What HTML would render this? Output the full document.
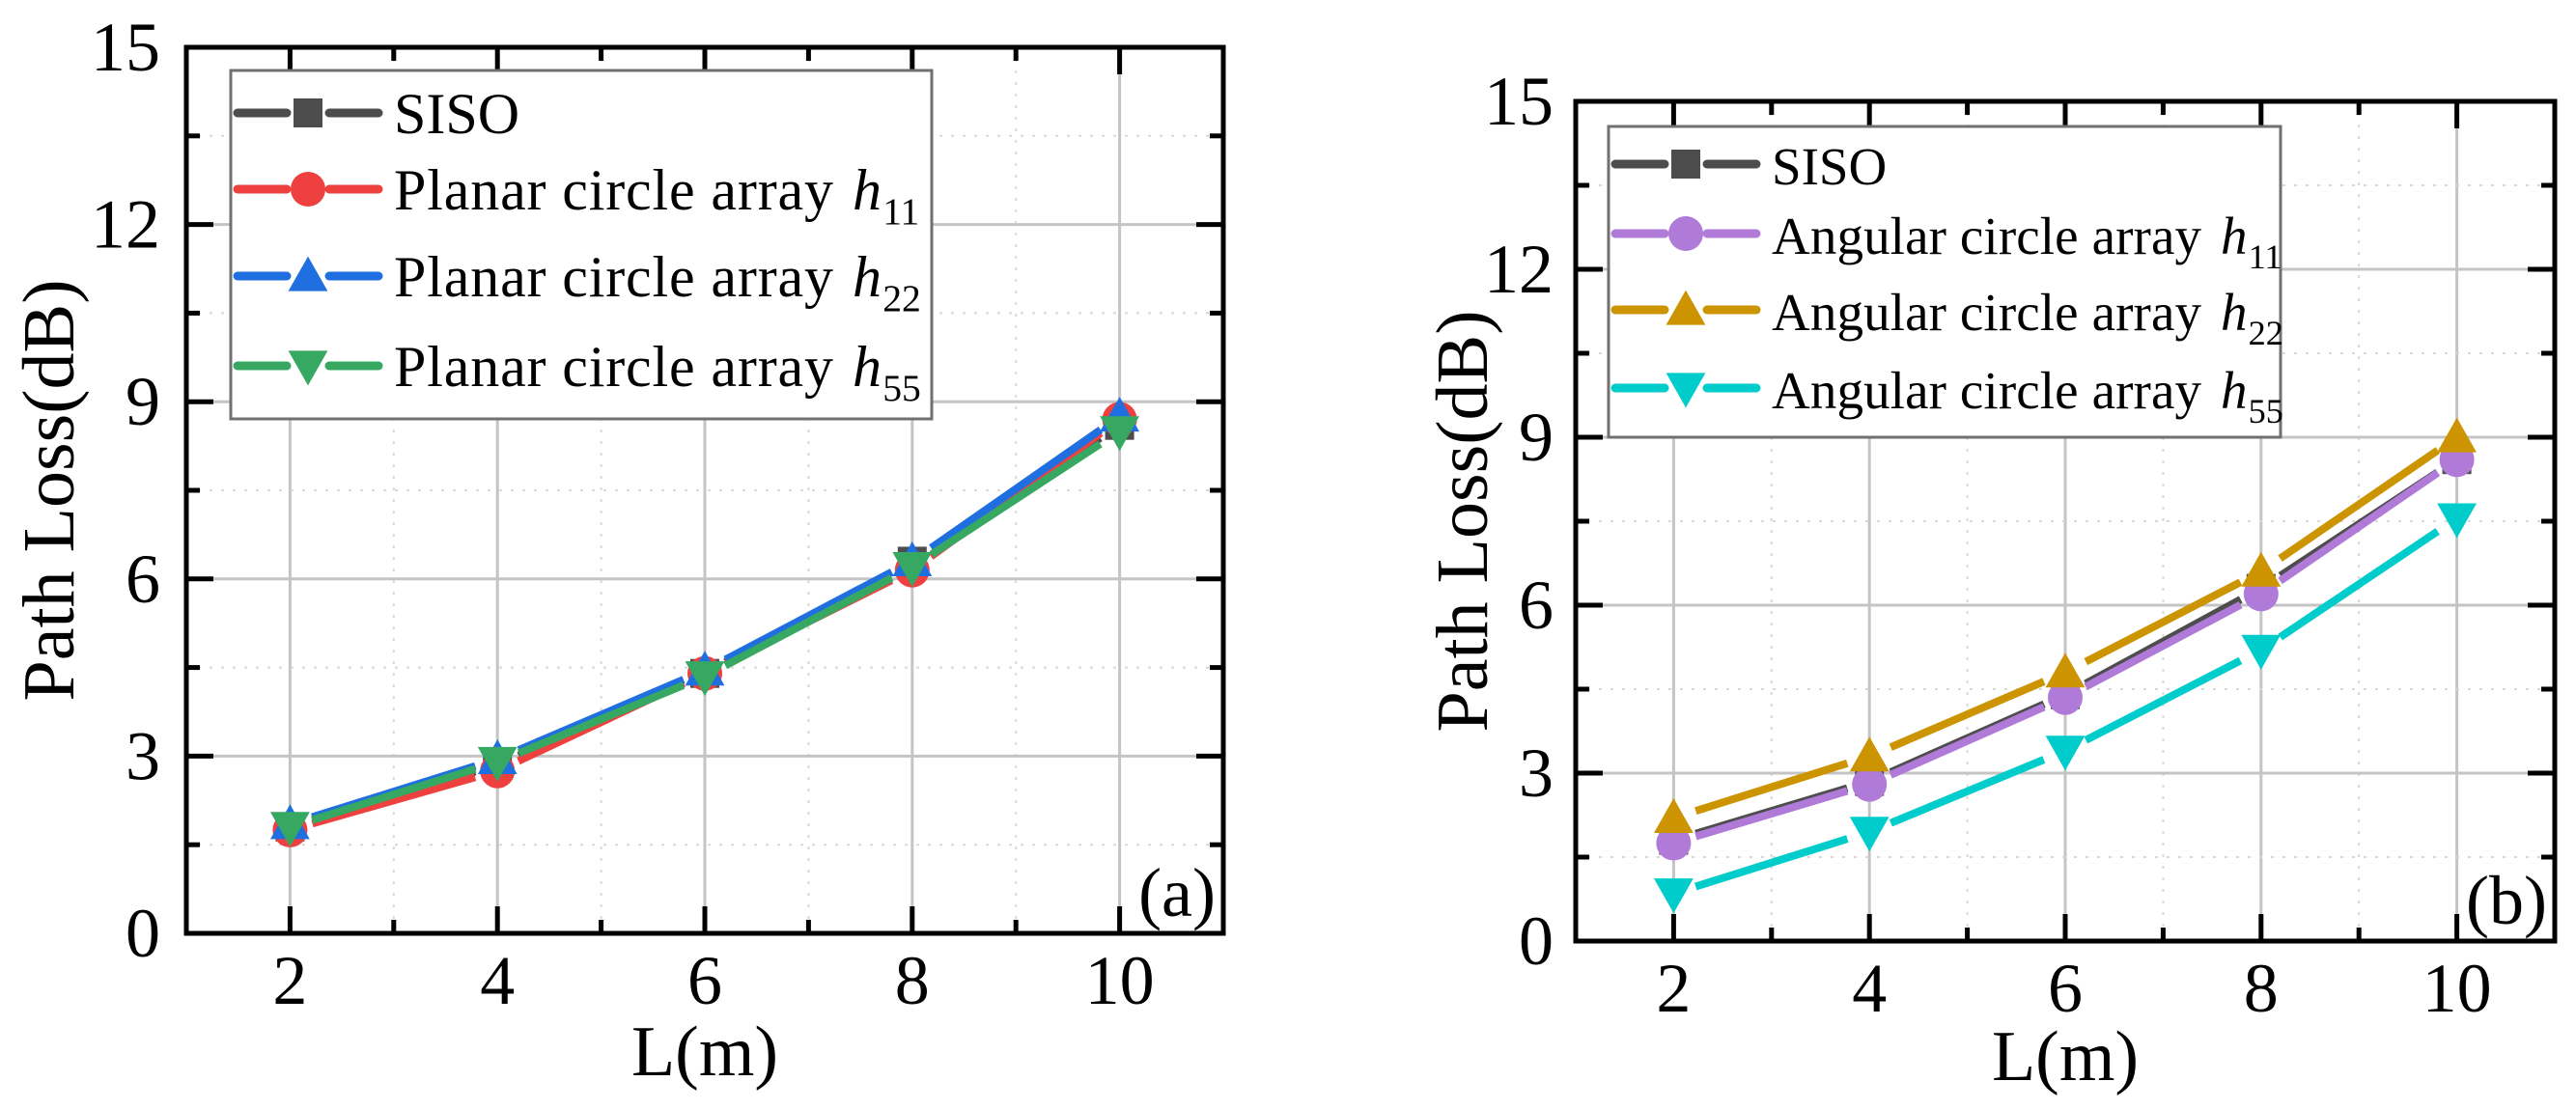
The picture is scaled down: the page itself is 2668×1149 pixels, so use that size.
<!DOCTYPE html>
<html><head><meta charset="utf-8"><style>
html,body{margin:0;padding:0;background:#fff;}
svg{display:block;font-family:"Liberation Serif",serif;}
</style></head>
<body>
<svg id="fig" width="2668" height="1149" viewBox="0 0 2668 1149" xmlns="http://www.w3.org/2000/svg"></svg>
<script>
// ---- data ----
const xValues = [2, 4, 6, 8, 10];
const xTicks = [2, 4, 6, 8, 10];
const yTicks = [0, 3, 6, 9, 12, 15];
const sisoA = [1.8, 2.85, 4.4, 6.3, 8.6];
const planarH11 = [1.75, 2.75, 4.4, 6.15, 8.7];
const planarH22 = [1.85, 2.95, 4.45, 6.3, 8.75];
const planarH55 = [1.8, 2.9, 4.35, 6.2, 8.5];
const sisoB = [1.8, 2.85, 4.4, 6.3, 8.6];
const angularH11 = [1.75, 2.8, 4.35, 6.2, 8.6];
const angularH22 = [2.2, 3.3, 4.8, 6.6, 9.0];
const angularH55 = [0.85, 1.95, 3.4, 5.2, 7.55];
const namesA = ["SISO", "Planar circle array", "Planar circle array", "Planar circle array"];
const namesB = ["SISO", "Angular circle array", "Angular circle array", "Angular circle array"];
const subs = ["", "11", "22", "55"];

const NS = "http://www.w3.org/2000/svg";
const svg = document.getElementById('fig');
function mk(tag, attrs, parent) {
  const e = document.createElementNS(NS, tag);
  for (const k in attrs) e.setAttribute(k, attrs[k]);
  (parent || svg).appendChild(e);
  return e;
}

function marker(g, type, cx, cy, color, s) {
  let e;
  if (type === 'square') e = mk('rect', {x: cx - s*0.5, y: cy - s*0.5, width: s, height: s, fill: color}, g);
  else if (type === 'circle') e = mk('circle', {cx: cx, cy: cy, r: s*0.6, fill: color}, g);
  else if (type === 'up') e = mk('polygon', {points: `${cx},${cy - s*0.68} ${cx - s*0.68},${cy + s*0.52} ${cx + s*0.68},${cy + s*0.52}`, fill: color}, g);
  else e = mk('polygon', {points: `${cx},${cy + s*0.68} ${cx - s*0.68},${cy - s*0.52} ${cx + s*0.68},${cy - s*0.52}`, fill: color}, g);
  return e;
}

function panel(p) {
  const g = mk('g', {});
  
  
  const X = v => p.x0 + (v - 1) / 10 * (p.x1 - p.x0);
  const Y = v => p.y1 - v / 15 * (p.y1 - p.y0);
  const grid = mk('g', {}, g);
  
  
  for (let v = 2; v <= 10; v++) {
    const major = xTicks.includes(v);
    mk('line', {x1: X(v), x2: X(v), y1: p.y0, y2: p.y1, stroke: major ? '#c4c4c4' : '#d8d8d8', 'stroke-width': major ? 3 : 2, 'stroke-dasharray': major ? '' : '3 9'}, grid);
  }
  for (let v = 1.5; v < 15; v += 1.5) {
    const major = Math.abs(v % 3) < 0.01;
    mk('line', {x1: p.x0, x2: p.x1, y1: Y(v), y2: Y(v), stroke: major ? '#c4c4c4' : '#d8d8d8', 'stroke-width': major ? 3 : 2, 'stroke-dasharray': major ? '' : '3 9'}, grid);
  }
  const ticks = mk('g', {stroke: '#000', 'stroke-width': 5}, g);
  
  
  for (let v = 2; v <= 10; v++) {
    const L = xTicks.includes(v) ? 28 : 14;
    mk('line', {x1: X(v), x2: X(v), y1: p.y1, y2: p.y1 - L}, ticks);
    mk('line', {x1: X(v), x2: X(v), y1: p.y0, y2: p.y0 + L}, ticks);
  }
  for (let v = 1.5; v < 15; v += 1.5) {
    const L = Math.abs(v % 3) < 0.01 ? 28 : 14;
    mk('line', {x1: p.x0, x2: p.x0 + L, y1: Y(v), y2: Y(v)}, ticks);
    mk('line', {x1: p.x1, x2: p.x1 - L, y1: Y(v), y2: Y(v)}, ticks);
  }
  p.series.forEach((s, si) => {
    const sg = mk('g', {}, g);
    
    
    const pts = xValues.map((xv, i) => [X(xv), Y(s.data[i])]);
    for (let i = 0; i < pts.length - 1; i++) {
      const [ax, ay] = pts[i], [bx, by] = pts[i + 1];
      const dx = bx - ax, dy = by - ay, d = Math.hypot(dx, dy), gap = 24;
      const ln = mk('line', {x1: ax + dx / d * gap, y1: ay + dy / d * gap, x2: bx - dx / d * gap, y2: by - dy / d * gap, stroke: s.color, 'stroke-width': 8}, sg);
      
      
    }
    pts.forEach(([cx, cy]) => {
      const m = marker(sg, s.marker, cx, cy, s.color, 30);
      
      
    });
  });
  const fr = mk('rect', {x: p.x0, y: p.y0, width: p.x1 - p.x0, height: p.y1 - p.y0, fill: 'none', stroke: '#000', 'stroke-width': 5}, g);
  
  
  yTicks.forEach(v => {
    const t = mk('text', {x: p.ylx, y: Y(v) + 24, 'text-anchor': 'end', 'font-size': 72}, g);
    t.textContent = v;
    
    
  });
  xTicks.forEach(v => {
    const t = mk('text', {x: X(v), y: p.y1 + 73, 'text-anchor': 'middle', 'font-size': 72}, g);
    t.textContent = v;
    
    
  });
  const xt = mk('text', {x: (p.x0 + p.x1) / 2, y: p.xty, 'text-anchor': 'middle', 'font-size': 74}, g);
  xt.textContent = 'L(m)';
  
  
  const yt = mk('text', {x: 0, y: 0, 'text-anchor': 'middle', 'font-size': 76, transform: `translate(${p.ytx},${(p.y0 + p.y1) / 2}) rotate(-90)`}, g);
  yt.textContent = 'Path Loss(dB)';
  
  
  const pl = mk('text', {x: p.x1 - 8, y: p.y1 - 18, 'text-anchor': 'end', 'font-size': 72}, g);
  pl.textContent = p.label;
  
  
  const lg = mk('g', {}, g);
  
  
  const lb = p.leg;
  mk('rect', {x: lb.x, y: lb.y, width: lb.w, height: lb.h, fill: '#fff', stroke: '#707070', 'stroke-width': 3}, lg);
  p.series.forEach((s, i) => {
    const e = mk('g', {}, lg);
    
    
    const cy = lb.rows[i], lx0 = lb.x + 7, lx1 = lb.x + 153, mx = (lx0 + lx1) / 2;
    mk('line', {x1: lx0, x2: mx - 22, y1: cy, y2: cy, stroke: s.color, 'stroke-width': 9, 'stroke-linecap': 'round'}, e);
    mk('line', {x1: mx + 22, x2: lx1, y1: cy, y2: cy, stroke: s.color, 'stroke-width': 9, 'stroke-linecap': 'round'}, e);
    marker(e, s.marker, mx, cy, s.color, 30);
    const tx = lb.x + 169;
    const t = mk('text', {x: tx, y: cy + 21, 'font-size': lb.fs}, e);
    t.textContent = p.names[i];
    if (subs[i]) {
      t.setAttribute('textLength', lb.tl);
      const h = mk('text', {x: tx + lb.tl + 20, y: cy + 21, 'font-size': lb.fs, 'font-style': 'italic'}, e);
      h.textContent = 'h';
      const sb = mk('text', {x: tx + lb.tl + 20 + lb.fs * 0.52, y: cy + 36, 'font-size': lb.fs * 0.66}, e);
      sb.textContent = subs[i];
    }
  });
}

panel({
  name: 'panel-a', label: '(a)', x0: 193, x1: 1267, y0: 49, y1: 967, ylx: 166, ytx: 76, xty: 1114,
  names: namesA,
  leg: {x: 239, y: 73, w: 726, h: 361, rows: [117, 196, 286, 379], fs: 60, tl: 455},
  series: [
    {id: 'siso', data: sisoA, color: '#4d4d4d', marker: 'square'},
    {id: 'planar-h11', data: planarH11, color: '#ef4040', marker: 'circle'},
    {id: 'planar-h22', data: planarH22, color: '#1f6fe0', marker: 'up'},
    {id: 'planar-h55', data: planarH55, color: '#36a862', marker: 'down'}
  ]
});
panel({
  name: 'panel-b', label: '(b)', x0: 1632, x1: 2646, y0: 105, y1: 975, ylx: 1609, ytx: 1540, xty: 1119,
  names: namesB,
  leg: {x: 1666, y: 131, w: 696, h: 322, rows: [170, 242, 321, 402], fs: 55, tl: 445},
  series: [
    {id: 'siso', data: sisoB, color: '#4d4d4d', marker: 'square'},
    {id: 'angular-h11', data: angularH11, color: '#b07ad8', marker: 'circle'},
    {id: 'angular-h22', data: angularH22, color: '#cc9400', marker: 'up'},
    {id: 'angular-h55', data: angularH55, color: '#00cccc', marker: 'down'}
  ]
});
</script>
</body></html>
